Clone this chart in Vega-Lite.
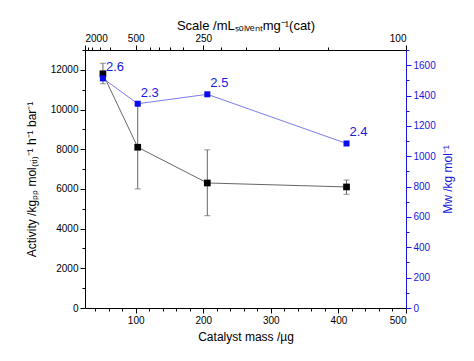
{
  "$schema": "https://vega.github.io/schema/vega-lite/v6.json",
  "width": 321,
  "height": 258,
  "autosize": "none",
  "padding": {"left": 85, "top": 50, "right": 68, "bottom": 53},
  "background": "white",
  "config": {
    "font": "Liberation Sans",
    "view": {"stroke": null},
    "axis": {
      "grid": false,
      "labelFontSize": 10,
      "titleFontSize": 12,
      "titleFontWeight": "normal",
      "domainColor": "#000000",
      "tickColor": "#000000",
      "labelColor": "#000000",
      "titleColor": "#000000",
      "tickSize": 5,
      "labelPadding": 2
    }
  },
  "data": {
    "values": [
      {"mass": 51.5, "activity": 11800, "act_lo": 11300, "act_hi": 12330, "mw": 1513, "pdi": "2.6"},
      {"mass": 103, "activity": 8100, "act_lo": 6000, "act_hi": 10250, "mw": 1346, "pdi": "2.3"},
      {"mass": 206, "activity": 6300, "act_lo": 4650, "act_hi": 7970, "mw": 1408, "pdi": "2.5"},
      {"mass": 412, "activity": 6100, "act_lo": 5730, "act_hi": 6450, "mw": 1084, "pdi": "2.4"}
    ]
  },
  "layer": [
    {
      "encoding": {
        "x": {
          "field": "mass", "type": "quantitative",
          "scale": {"domain": [25, 500], "nice": false, "zero": false},
          "axis": {"orient": "bottom", "values": [100, 200, 300, 400, 500], "format": "d", "title": "Catalyst mass /µg", "titlePadding": 6}
        },
        "y": {
          "field": "activity", "type": "quantitative",
          "scale": {"domain": [0, 13000], "nice": false, "zero": true},
          "axis": {"orient": "left", "values": [0, 2000, 4000, 6000, 8000, 10000, 12000], "format": "d", "title": "Activity /kgₚₚ mol₍ₜᵢ₎⁻¹ h⁻¹ bar⁻¹", "titlePadding": 12}
        }
      },
      "layer": [
        {"mark": {"type": "line", "color": "#666666", "strokeWidth": 1}},
        {"mark": {"type": "rule", "color": "#666666", "strokeWidth": 1}, "encoding": {"y": {"field": "act_lo", "type": "quantitative"}, "y2": {"field": "act_hi"}}},
        {"mark": {"type": "tick", "color": "#666666", "thickness": 1, "size": 6, "orient": "horizontal"}, "encoding": {"y": {"field": "act_lo", "type": "quantitative"}}},
        {"mark": {"type": "tick", "color": "#666666", "thickness": 1, "size": 6, "orient": "horizontal"}, "encoding": {"y": {"field": "act_hi", "type": "quantitative"}}},
        {"mark": {"type": "point", "shape": "square", "filled": true, "color": "#000000", "size": 45, "opacity": 1}}
      ]
    },
    {
      "encoding": {
        "x": {
          "field": "mass", "type": "quantitative",
          "scale": {"domain": [25, 500], "nice": false, "zero": false},
          "axis": {"orient": "top", "values": [25, 100, 200, 500], "labelExpr": "format(50000 / datum.value, 'd')", "title": "Scale /mLₛₒₗᵥₑₙₜmg⁻¹(cat)", "titleFontSize": 13, "titlePadding": 1}
        },
        "y": {
          "field": "mw", "type": "quantitative",
          "scale": {"domain": [0, 1700], "nice": false, "zero": true},
          "axis": {"orient": "right", "values": [0, 200, 400, 600, 800, 1000, 1200, 1400, 1600], "format": "d", "title": "Mw /kg mol⁻¹", "titleAngle": 270, "titlePadding": 19, "domainColor": "#1818e0", "tickColor": "#1818e0", "labelColor": "#1818e0", "titleColor": "#1818e0"}
        }
      },
      "layer": [
        {"mark": {"type": "line", "color": "#7b7bef", "strokeWidth": 1}},
        {"mark": {"type": "point", "shape": "square", "filled": true, "color": "#0a0af0", "size": 36, "opacity": 1}},
        {"mark": {"type": "text", "align": "left", "baseline": "middle", "dx": 3, "dy": -11, "fontSize": 13, "color": "#1818e0"}, "encoding": {"text": {"field": "pdi"}}}
      ]
    },
    {
      "mark": {"type": "point", "opacity": 0},
      "encoding": {
        "x": {
          "field": "mass", "type": "quantitative",
          "scale": {"domain": [25, 500], "nice": false, "zero": false},
          "axis": {"orient": "bottom", "values": [40, 60, 80, 120, 140, 160, 180, 220, 240, 260, 280, 320, 340, 360, 380, 420, 440, 460, 480], "labels": false, "domain": false, "tickSize": 3, "title": null}
        },
        "y": {
          "field": "activity", "type": "quantitative",
          "scale": {"domain": [0, 13000], "nice": false, "zero": true},
          "axis": {"orient": "left", "values": [1000, 3000, 5000, 7000, 9000, 11000, 13000], "labels": false, "domain": false, "tickSize": 3, "title": null}
        }
      }
    },
    {
      "mark": {"type": "point", "opacity": 0},
      "encoding": {
        "x": {
          "field": "mass", "type": "quantitative",
          "scale": {"domain": [25, 500], "nice": false, "zero": false},
          "axis": {"orient": "top", "values": [29.4, 35.7, 46.5, 62, 121, 135, 151, 169.5, 226, 263, 312, 384], "labels": false, "domain": false, "tickSize": 3, "title": null}
        },
        "y": {
          "field": "mw", "type": "quantitative",
          "scale": {"domain": [0, 1700], "nice": false, "zero": true},
          "axis": {"orient": "right", "values": [100, 300, 500, 700, 900, 1100, 1300, 1500, 1700], "labels": false, "domain": false, "tickSize": 3, "title": null, "tickColor": "#1818e0"}
        }
      }
    }
  ],
  "resolve": {"scale": {"y": "independent"}, "axis": {"x": "independent", "y": "independent"}}
}
